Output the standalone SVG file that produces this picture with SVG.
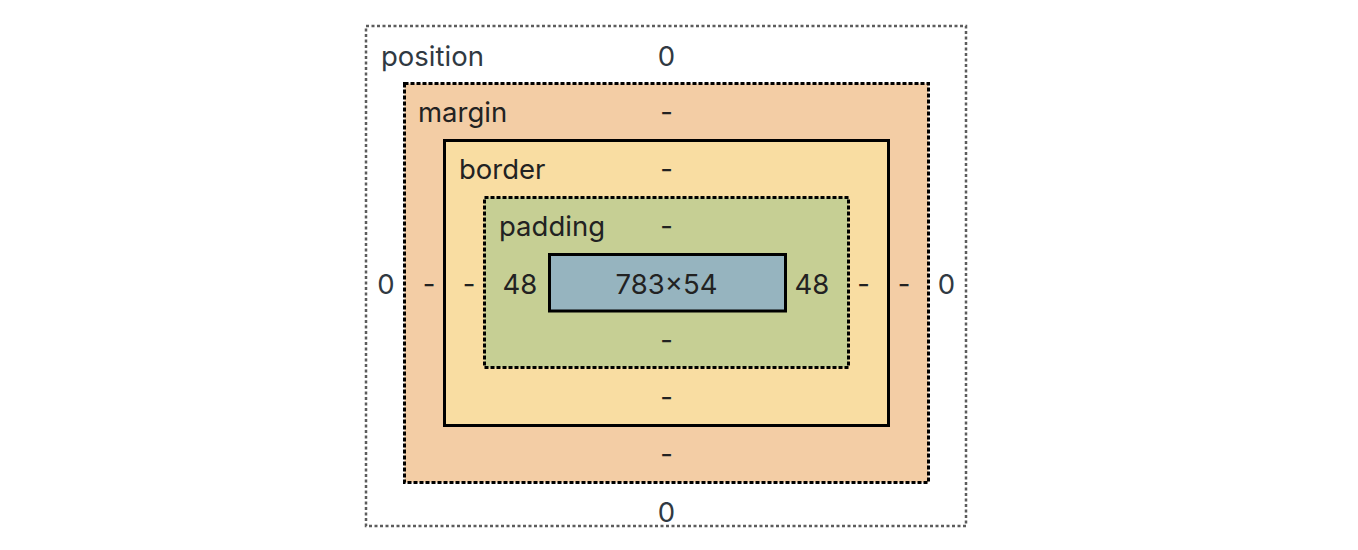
<svg xmlns="http://www.w3.org/2000/svg" width="1358" height="550" viewBox="0 0 1358 550">
<style>
text{font-family:Inter,"Open Sans","Liberation Sans",sans-serif;font-size:27.5px;fill:#222}
.pos{fill:#303942}
.m{text-anchor:middle}
.dash{stroke:#000;stroke-width:3;stroke-dasharray:4 2}
.solid{stroke:#000;stroke-width:3}
</style>
<rect width="1358" height="550" fill="#fff"/>
<g id="position">
<rect x="366" y="26" width="600" height="500" fill="none" stroke="#5c5c5c" stroke-width="2.5" stroke-dasharray="3 2.5"/>
<text class="pos" x="381" y="66">position</text>
<text class="pos m" x="666.5" y="66">0</text>
<text class="pos m" x="386" y="293.5">0</text>
<text class="pos m" x="946.5" y="293.5">0</text>
<text class="pos m" x="666.5" y="521.5">0</text>
</g>
<g id="margin">
<rect class="dash" x="404.5" y="83.5" width="524" height="399" fill="#f3cda5"/>
<text x="418" y="122">margin</text>
<text class="m" x="666.5" y="122">-</text>
<text class="m" x="429" y="293.5">-</text>
<text class="m" x="904" y="293.5">-</text>
<text class="m" x="666.5" y="464">-</text>
</g>
<g id="border">
<rect class="solid" x="444.5" y="140.5" width="444" height="285" fill="#f9dda2"/>
<text x="459" y="179">border</text>
<text class="m" x="666.5" y="179">-</text>
<text class="m" x="469" y="293.5">-</text>
<text class="m" x="863.5" y="293.5">-</text>
<text class="m" x="666.5" y="407">-</text>
</g>
<g id="padding">
<rect class="dash" x="484.5" y="197.5" width="364" height="170" fill="#c6cf94"/>
<text x="499" y="236">padding</text>
<text class="m" x="666.5" y="236">-</text>
<text class="m" x="520" y="293.5">48</text>
<text class="m" x="812" y="293.5">48</text>
<text class="m" x="666.5" y="350">-</text>
</g>
<g id="content">
<rect class="solid" x="549.5" y="254.5" width="236" height="56.5" fill="#96b4bf"/>
<text class="m" x="666.5" y="293.5">783×54</text>
</g>
<g id="connectors"/>
</svg>
